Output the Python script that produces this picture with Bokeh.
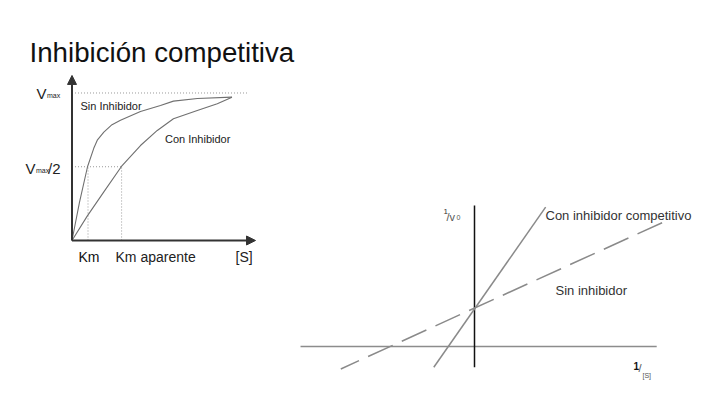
from bokeh.plotting import figure
from bokeh.layouts import row, column
from bokeh.models import Spacer, Arrow, NormalHead
from bokeh.core.properties import value
from bokeh.embed import file_html
from bokeh.resources import INLINE

# ---------------- data ----------------
# Michaelis-Menten curves: [S] in units of Km, v in units of Vmax
S_sin = [0, 0.47, 0.97, 1.36, 1.58, 1.99, 2.5, 3.03, 4.28, 5.53, 6.34, 7.84, 10.0]
V_sin = [0, 0.26, 0.50, 0.625, 0.68, 0.735, 0.785, 0.815, 0.875, 0.915, 0.945, 0.963, 0.972]
S_con = [0, 0.95, 1.99, 3.09, 4.28, 5.33, 6.34, 7.83, 9.08, 10.0]
V_con = [0, 0.165, 0.33, 0.502, 0.644, 0.746, 0.825, 0.881, 0.927, 0.972]
Vmax = 1.0
Km = 1.0
Km_ap = 3.1

# Lineweaver-Burk lines: 1/[S] and 1/v0
invS_sin = [-1.56, 2.25]
invV_sin = [-0.58, 3.26]
invS_con = [-0.475, 0.83]
invV_con = [-0.535, 3.60]

FONT = value("Liberation Sans")


def blank(w, h, xr, yr):
    p = figure(width=w, height=h, x_range=xr, y_range=yr,
               output_backend="svg", toolbar_location=None,
               min_border=0, outline_line_color=None,
               background_fill_color="white", border_fill_color="white")
    p.axis.visible = False
    p.grid.visible = False
    return p


def label(p, x, y, t, size, color="#222222", style="normal"):
    p.text(x=[x], y=[y], text=[t], text_font=FONT, text_font_size=size,
           text_color=color, text_align="left", text_baseline="alphabetic",
           text_font_style=style)


# ---------------- left: saturation curves ----------------
L = blank(299, 280, (-4.46875, 14.21875), (-0.27119, 1.62712))

label(L, -2.656, 1.2766, "Inhibición competitiva", "27.7px", color="#111111")

dot = dict(line_color="#9a9a9a", line_width=1, line_dash="1 2")
L.line([0, 10.97], [Vmax, Vmax], **dot)
L.line([0, Km_ap], [Vmax / 2, Vmax / 2], **dot)
L.line([Km, Km], [0, Vmax / 2], **dot)
L.line([Km_ap, Km_ap], [0, Vmax / 2], **dot)

L.line(S_sin, V_sin, line_color="#707070", line_width=1.1)
L.line(S_con, V_con, line_color="#707070", line_width=1.1)

L.add_layout(Arrow(end=NormalHead(size=9, fill_color="#333333", line_color="#333333"),
                   x_start=0, y_start=0, x_end=0, y_end=1.119,
                   line_color="#333333", line_width=2))
L.add_layout(Arrow(end=NormalHead(size=9, fill_color="#333333", line_color="#333333"),
                   x_start=0, y_start=0, x_end=11.47, y_end=0,
                   line_color="#333333", line_width=2))

label(L, 0.531, 0.915, "Sin Inhibidor", "11px")
label(L, 5.81, 0.6895, "Con Inhibidor", "11px")
label(L, -2.219, 0.9946, "V", "15px")
label(L, -1.56, 0.982, "max", "7px")
label(L, -2.906, 0.486, "V", "15px")
label(L, -2.25, 0.473, "max", "7px")
label(L, -1.50, 0.486, "/2", "15px")
label(L, 0.406, -0.1132, "Km", "14px", color="#111111")
label(L, 2.719, -0.1132, "Km aparente", "14px")
label(L, 10.22, -0.1132, "[S]", "14px")

# ---------------- right: double reciprocal plot ----------------
R = blank(413, 217, (-2.0420, 2.7771), (-1.3178, 4.2894))

R.line([-2.03, 2.126], [0, 0], line_color="#8c8c8c", line_width=1.6)
R.line([0, 0], [-0.535, 3.643], line_color="#111111", line_width=1.5)

R.line(invS_con, invV_con, line_color="#8a8a8a", line_width=1.5)
R.line(invS_sin, invV_sin, line_color="#8a8a8a", line_width=1.5,
       line_dash="27 10", line_dash_offset=7)

label(R, 0.8285, 3.385, "Con inhibidor competitivo", "13px", color="#333333")
label(R, 0.945, 1.447, "Sin inhibidor", "13px", color="#333333")
label(R, -0.3617, 3.488, "1", "8px", color="#333333")
label(R, -0.3267, 3.359, "/v", "11px", color="#555555")
label(R, -0.21, 3.333, "0", "7px", color="#555555")
label(R, 1.855, -0.491, "1", "10px", color="#111111", style="bold")
label(R, 1.914, -0.568, "/", "11px", color="#555555")
label(R, 1.960, -0.749, "[S]", "7px", color="#555555")

layout = row(L, column(Spacer(width=413, height=180), R))

open("out.html", "w").write(file_html(layout, INLINE))
